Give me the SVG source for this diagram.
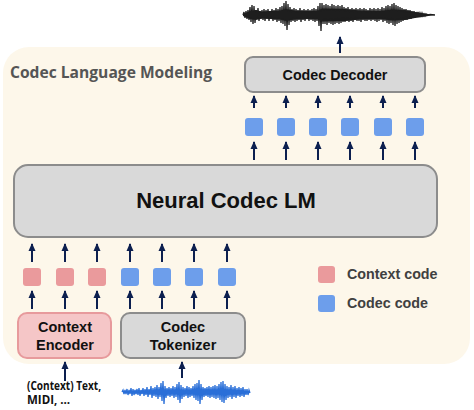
<svg xmlns="http://www.w3.org/2000/svg" width="474" height="410" viewBox="0 0 474 410">
<defs>
<marker id="ah" markerUnits="userSpaceOnUse" markerWidth="8" markerHeight="8" refX="7" refY="4" orient="auto">
<path d="M0,0.5 L8,4 L0,7.5 z" fill="#0c1f4f"/>
</marker>
<style>
.box{fill:#d9d9d9;stroke:#8c8c8c;stroke-width:2}
.enc{fill:#f5c6c7;stroke:#e79a9c;stroke-width:2}
.pk{fill:#ea9a9c}
.bl{fill:#6d9eeb}
.t{font-family:"Liberation Sans",Arial,sans-serif;font-weight:bold;fill:#111;text-anchor:middle}
.arr{stroke:#0c1f4f;stroke-width:2;fill:none;marker-end:url(#ah)}
.os{font-family:"Open Sans","Noto Sans","Liberation Sans",sans-serif;font-weight:bold}
</style>
</defs>
<rect width="474" height="410" fill="#fff"/>
<rect id="panel" x="3" y="47" width="467" height="317" rx="26" fill="#fdf7ea"/>
<text class="os" x="10" y="78" font-size="16.5" fill="#555555" textLength="202" lengthAdjust="spacingAndGlyphs">Codec Language Modeling</text>

<g id="wave-out">
<path fill="#1e1e1e" d="M243,14 L250,11 256,10 262,11.5 270,11 280,10.5 286,9 295,10.5 310,11 318,10.5 322,8.5 345,9 360,10.5 380,11 392,9.5 405,10 415,12 425,13.5 435,15 L425,16.5 415,18 405,20 392,20.5 380,19 360,19.5 345,21 322,21.5 318,19.5 310,19 295,19.5 286,21 280,19.5 270,19 262,18.5 256,20 250,19 243,16 z"/>
<path fill="none" stroke="#1e1e1e" stroke-width="1.3" d="M243,15 L244,12 245,18 246,11 247,19 248,10 249,20 250,7 251,22 252,5 253,24 254,6 255,23 256,10 257,19 258,8 259,21 260,11 261,19 262,10 263,20 264,9 265,21 266,10 267,19 268,9 269,21 270,11 271,18 272,9 273,21 274,10 275,20 276,8 277,22 278,9 279,21 280,7 281,23 282,6 283,24 284,3 285,26 286,1 287,30 288,4 289,25 290,7 291,22 292,9 293,21 294,8 295,22 296,9 297,21 298,10 299,20 300,8 301,22 302,10 303,20 304,9 305,21 306,10 307,19 308,9 309,21 310,10 311,20 312,9 313,21 314,8 315,22 316,9 317,21 318,6 319,26 320,3 321,31 322,3 323,24 324,5 325,24 326,4 327,25 328,5 329,23 330,6 331,24 332,4 333,25 334,5 335,24 336,6 337,23 338,5 339,24 340,6 341,23 342,5 343,22 344,7 345,22 346,8 347,21 348,7 349,22 350,9 351,21 352,8 353,22 354,9 355,20 356,8 357,21 358,9 359,21 360,8 361,22 362,9 363,20 364,8 365,21 366,9 367,21 368,10 369,20 370,8 371,21 372,9 373,20 374,8 375,21 376,9 377,22 378,8 379,21 380,9 381,20 382,7 383,22 384,8 385,21 386,6 387,23 388,5 389,24 390,6 391,23 392,4 393,25 394,3 395,26 396,5 397,24 398,6 399,23 400,7 401,22 402,8 403,21 404,9 405,20 406,9 407,20 408,10 409,19 410,10 411,19 412,11 413,18 414,11 415,18 416,12 417,17 418,12 419,17 420,13 421,16 422,13 423,16 424,14 425,16 426,14 427,15.5 430,14.5 435,15"/>
</g>

<g id="codec-decoder">
<rect class="box" x="245" y="57" width="180" height="35" rx="8"/>
<text class="t" x="335" y="80" font-size="14.3">Codec Decoder</text>
</g>

<g id="neural-codec-lm">
<rect class="box" x="14" y="165" width="423" height="72" rx="14"/>
<text class="t" x="226" y="208" font-size="22">Neural Codec LM</text>
</g>

<g id="context-encoder">
<rect class="enc" x="18" y="313" width="93" height="45" rx="9"/>
<text class="t" x="65" y="332" font-size="14.5">Context</text>
<text class="t" x="65" y="350" font-size="14.5">Encoder</text>
</g>

<g id="codec-tokenizer">
<rect class="box" x="121" y="313" width="124" height="45" rx="9"/>
<text class="t" x="183" y="332" font-size="14.5">Codec</text>
<text class="t" x="183" y="350" font-size="14.5">Tokenizer</text>
</g>

<g id="codes-top">
<rect class="bl" x="245" y="118" width="18" height="18" rx="3"/>
<rect class="bl" x="277" y="118" width="18" height="18" rx="3"/>
<rect class="bl" x="309" y="118" width="18" height="18" rx="3"/>
<rect class="bl" x="341" y="118" width="18" height="18" rx="3"/>
<rect class="bl" x="374" y="118" width="18" height="18" rx="3"/>
<rect class="bl" x="406" y="118" width="18" height="18" rx="3"/>
</g>

<g id="codes-bottom">
<rect class="pk" x="23" y="268" width="18" height="18" rx="3"/>
<rect class="pk" x="56" y="268" width="18" height="18" rx="3"/>
<rect class="pk" x="88" y="268" width="18" height="18" rx="3"/>
<rect class="bl" x="121" y="268" width="18" height="18" rx="3"/>
<rect class="bl" x="153" y="268" width="18" height="18" rx="3"/>
<rect class="bl" x="185" y="268" width="18" height="18" rx="3"/>
<rect class="bl" x="218" y="268" width="18" height="18" rx="3"/>
</g>

<g id="legend">
<rect class="pk" x="318" y="266" width="17" height="17" rx="3"/>
<rect class="bl" x="318" y="295" width="17" height="17" rx="3"/>
<text x="347" y="279" font-family="'Liberation Sans',Arial,sans-serif" font-weight="bold" font-size="14.3" fill="#404040">Context code</text>
<text x="347" y="308" font-family="'Liberation Sans',Arial,sans-serif" font-weight="bold" font-size="14.3" fill="#404040">Codec code</text>
</g>

<g id="input-text">
<text class="os" x="27" y="390" font-size="11.5" fill="#111" textLength="74" lengthAdjust="spacingAndGlyphs">(Context) Text,</text>
<text class="os" x="27" y="404" font-size="11.5" fill="#111">MIDI, …</text>
</g>

<g id="wave-in">
<path fill="#3a7ee0" opacity="0.85" d="M123,392 L135,390.5 150,390 160,389 175,389.5 190,389.5 200,388.5 215,389.5 225,389 240,390 250,391.5 L250,393 240,394.5 225,395 215,394.5 200,395.5 190,394.5 175,394.5 160,395 150,394 135,393.5 123,392.5 z"/>
<path fill="none" stroke="#2a6fd8" stroke-width="1.3" d="M122,392 L123,390 124,394 125,390 126,394 127,389 128,395 129,390 130,394 131,388 132,396 133,389 134,395 135,390 136,394 137,389 138,395 139,388 140,396 141,390 142,394 143,388 144,396 145,389 146,395 147,387 148,397 149,389 150,395 151,386 152,398 153,388 154,396 155,387 156,397 157,385 158,399 159,387 160,397 161,383 162,401 163,381 164,404 165,386 166,398 167,388 168,396 169,387 170,397 171,388 172,396 173,386 174,398 175,387 176,397 177,384 178,400 179,382 180,403 181,385 182,399 183,387 184,397 185,388 186,396 187,386 188,398 189,387 190,397 191,388 192,396 193,386 194,398 195,384 196,400 197,383 198,401 199,380 200,404 201,384 202,400 203,387 204,397 205,388 206,396 207,387 208,397 209,386 210,398 211,387 212,397 213,386 214,398 215,385 216,399 217,386 218,398 219,384 220,400 221,382 222,402 223,381 224,403 225,384 226,400 227,386 228,398 229,387 230,397 231,385 232,399 233,387 234,397 235,386 236,398 237,388 238,396 239,387 240,397 241,388 242,396 243,387 244,397 245,389 246,395 247,389 248,395 249,390 250,393"/>
</g>

<g id="connectors">
<path class="arr" d="M340,53 V37"/>
<path class="arr" d="M254,108 V96"/>
<path class="arr" d="M286,108 V96"/>
<path class="arr" d="M318,108 V96"/>
<path class="arr" d="M350,108 V96"/>
<path class="arr" d="M383,108 V96"/>
<path class="arr" d="M415,108 V96"/>
<path class="arr" d="M254,160 V142"/>
<path class="arr" d="M286,160 V142"/>
<path class="arr" d="M318,160 V142"/>
<path class="arr" d="M350,160 V142"/>
<path class="arr" d="M383,160 V142"/>
<path class="arr" d="M415,160 V142"/>
<path class="arr" d="M32,262 V244"/>
<path class="arr" d="M65,262 V244"/>
<path class="arr" d="M97,262 V244"/>
<path class="arr" d="M130,262 V244"/>
<path class="arr" d="M162,262 V244"/>
<path class="arr" d="M194,262 V244"/>
<path class="arr" d="M227,262 V244"/>
<path class="arr" d="M32,309 V291"/>
<path class="arr" d="M65,309 V291"/>
<path class="arr" d="M97,309 V291"/>
<path class="arr" d="M130,309 V291"/>
<path class="arr" d="M162,309 V291"/>
<path class="arr" d="M194,309 V291"/>
<path class="arr" d="M227,309 V291"/>
<path class="arr" d="M65,381 V362"/>
<path class="arr" d="M182,378 V362"/>
</g>
</svg>
